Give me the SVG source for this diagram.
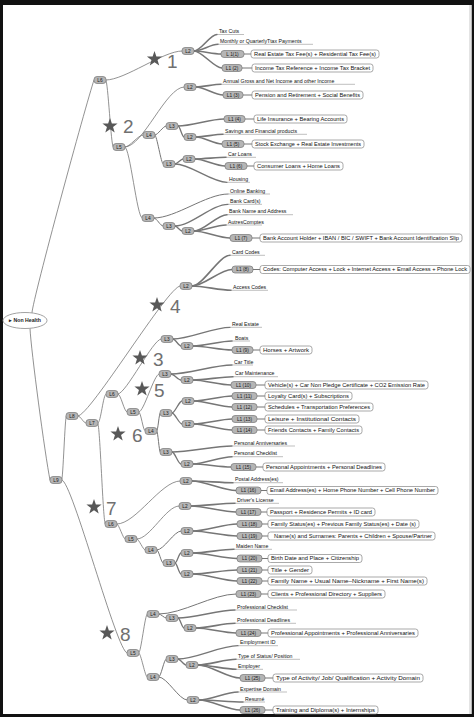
<svg xmlns="http://www.w3.org/2000/svg" xmlns:xlink="http://www.w3.org/1999/xlink" width="474" height="717" viewBox="0 0 474 717">
<style>
.p rect{fill:#b5b5b5;stroke:#767676;stroke-width:0.7}
.p text{font-family:"Liberation Sans",Arial,sans-serif;font-size:4.8px;fill:#1a1a1a;text-anchor:middle}
.b rect{fill:#fff;stroke:#858585;stroke-width:0.7}
.b text,.l text{font-family:"Liberation Sans",Arial,sans-serif;font-size:5.2px;fill:#111}
.l line{stroke:#949494;stroke-width:0.6}
.c path{fill:none;stroke:#767676;stroke-linecap:round}
.c .w0{stroke-width:0.8}.c .w1{stroke-width:1}.c .w2{stroke-width:1.3}.c .w3{stroke-width:1.6}
.c line{stroke:#767676;stroke-width:1}
.s use{fill:#585858}
.s text{font-family:"Liberation Sans",Arial,sans-serif;font-size:19px;fill:#707070}
</style>
<defs>
<polygon id="star" points="0,-8 1.88,-2.59 7.61,-2.47 3.04,0.99 4.7,6.47 0,3.2 -4.7,6.47 -3.04,0.99 -7.61,-2.47 -1.88,-2.59"/>
</defs>
<rect width="474" height="717" fill="#111"/>
<rect x="3" y="5" width="468.5" height="709" fill="#fff"/>
<rect x="469" y="5" width="2.5" height="709" fill="#e4e4e4"/>

<g id="connectors" class="c">
<path class="w0" d="M32,312.5 C33,298 86,104 94,80"/>
<path class="w0" d="M30,328.5 C31,350 45,455 50,480"/>
<path class="w0" d="M106,80 C125,80 163,51 182,51"/>
<path class="w0" d="M106,80 C108,80 111,147 113,147"/>
<path class="w0" d="M125,147 C143,147 166,87 184,87"/>
<path class="w0" d="M125,147 C130,147 138,135 143,135"/>
<path class="w0" d="M125,147 C130,147 137,218 142,218"/>
<path class="w1" d="M155,135 C158,135 163,126 166,126"/>
<path class="w1" d="M155,135 C157,135 161,164 163,164"/>
<path class="w2" d="M178,126 C192,126 210,119 224,119"/>
<path class="w2" d="M178,126 C180,126 182,137 184,137"/>
<path class="w3" d="M196,137 C204,137 215,134.3 223,134.3"/>
<path class="w3" d="M196,137 C204,137 214,144 222,144"/>
<path class="w2" d="M175,164 C177,164 181,159 183,159"/>
<path class="w2" d="M175,164 C191,164 211,182.3 227,182.3"/>
<path class="w3" d="M195,159 C204,159 217,157.3 226,157.3"/>
<path class="w3" d="M195,159 C204,159 216,166 225,166"/>
<path class="w1" d="M154,218 C176,218 206,194 228,194"/>
<path class="w1" d="M154,218 C157,218 160,226 163,226"/>
<path class="w2" d="M175,226 C191,226 212,204.3 228,204.3"/>
<path class="w2" d="M175,226 C177,226 180,231 182,231"/>
<path class="w3" d="M194,231 C204,231 217,214.7 227,214.7"/>
<path class="w3" d="M194,231 C204,231 216,225 226,225"/>
<path class="w3" d="M194,231 C205,231 219,238 230,238"/>
<path class="w3" d="M194,51 C201,51 210,34.5 217,34.5"/>
<path class="w3" d="M194,51 C201,51 211,44.3 218,44.3"/>
<path class="w3" d="M194,51 C202,51 213,54 221,54"/>
<path class="w3" d="M194,51 C202,51 214,68 222,68"/>
<path class="w3" d="M196,87 C203,87 214,84.3 221,84.3"/>
<path class="w3" d="M196,87 C204,87 215,95 223,95"/>

<path class="w0" d="M62,480 C63,480 65,416 66,416"/>
<path class="w0" d="M62,480 C72,480 117,653 127,653"/>
<path class="w0" d="M78,416 C90,416 168,286 180,286"/>
<path class="w0" d="M78,416 C81,416 83,423 86,423"/>
<path class="w0" d="M98,423 C101,423 103,394 106,394"/>
<path class="w0" d="M98,423 C100,423 103,524 105,524"/>
<path class="w0" d="M118,394 C126,394 153,339 161,339"/>
<path class="w0" d="M118,394 C121,394 124,412 127,412"/>
<path class="w0" d="M139,412 C144,412 154,374 159,374"/>
<path class="w0" d="M139,412 C141,412 143,431 145,431"/>
<path class="w1" d="M157,431 C158,431 159,413 160,413"/>
<path class="w1" d="M157,431 C158,431 159,452 160,452"/>
<path class="w2" d="M172,413 C175,413 179,401 182,401"/>
<path class="w2" d="M172,413 C175,413 179,424 182,424"/>
<path class="w3" d="M194,401 C205,401 221,396 232,396"/>
<path class="w3" d="M194,401 C205,401 221,407 232,407"/>
<path class="w3" d="M194,424 C205,424 221,419 232,419"/>
<path class="w3" d="M194,424 C205,424 221,430 232,430"/>
<path class="w2" d="M172,452 C190,452 214,446 232,446"/>
<path class="w2" d="M172,452 C175,452 178,464 181,464"/>
<path class="w3" d="M193,464 C205,464 220,456.7 232,456.7"/>
<path class="w3" d="M193,464 C204,464 220,467 231,467"/>
<path class="w2" d="M173,339 C190,339 213,327.3 230,327.3"/>
<path class="w2" d="M173,339 C175,339 179,346 181,346"/>
<path class="w3" d="M193,346 C205,346 220,341 232,341"/>
<path class="w3" d="M193,346 C205,346 220,350 232,350"/>
<path class="w2" d="M171,374 C189,374 214,365 232,365"/>
<path class="w2" d="M171,374 C174,374 178,380 181,380"/>
<path class="w3" d="M193,380 C205,380 221,376.7 233,376.7"/>
<path class="w3" d="M193,380 C204,380 220,385 231,385"/>
<path class="w3" d="M192,286 C203,286 219,255.3 230,255.3"/>
<path class="w3" d="M192,286 C204,286 220,269.5 232,269.5"/>
<path class="w3" d="M192,286 C204,286 219,290.3 231,290.3"/>

<path class="w0" d="M117,524 C136,524 161,481 180,481"/>
<path class="w0" d="M117,524 C119,524 123,539 125,539"/>
<path class="w3" d="M192,481 C204,481 221,482.7 233,482.7"/>
<path class="w3" d="M192,481 C205,481 223,490.5 236,490.5"/>
<path class="w0" d="M137,539 C150,539 166,506 179,506"/>
<path class="w0" d="M137,539 C139,539 143,550 145,550"/>
<path class="w3" d="M191,506 C204,506 222,503.3 235,503.3"/>
<path class="w3" d="M191,506 C204,506 223,512 236,512"/>
<path class="w1" d="M157,550 C164,550 174,531 181,531"/>
<path class="w1" d="M157,550 C159,550 161,563 163,563"/>
<path class="w3" d="M193,531 C206,531 224,524 237,524"/>
<path class="w3" d="M193,531 C206,531 224,536 237,536"/>
<path class="w2" d="M175,563 C177,563 179,553 181,553"/>
<path class="w2" d="M175,563 C177,563 179,574 181,574"/>
<path class="w3" d="M193,553 C205,553 222,549.3 234,549.3"/>
<path class="w3" d="M193,553 C206,553 224,558.5 237,558.5"/>
<path class="w3" d="M193,574 C206,574 224,570 237,570"/>
<path class="w3" d="M193,574 C206,574 224,581 237,581"/>
<path class="w0" d="M139,653 C141,653 145,614 147,614"/>
<path class="w0" d="M139,653 C141,653 145,677 147,677"/>
<path class="w1" d="M159,614 C182,614 213,594 236,594"/>
<path class="w1" d="M159,614 C161,614 164,618 166,618"/>
<path class="w2" d="M178,618 C195,618 218,610 235,610"/>
<path class="w2" d="M178,618 C180,618 182,628 184,628"/>
<path class="w3" d="M196,628 C208,628 223,623.3 235,623.3"/>
<path class="w3" d="M196,628 C208,628 224,633 236,633"/>
<path class="w1" d="M159,677 C161,677 164,659 166,659"/>
<path class="w1" d="M159,677 C167,677 179,700 187,700"/>
<path class="w2" d="M178,659 C196,659 220,645.7 238,645.7"/>
<path class="w2" d="M178,659 C180,659 184,665 186,665"/>
<path class="w3" d="M198,665 C209,665 225,659.3 236,659.3"/>
<path class="w3" d="M198,665 C209,665 225,669.3 236,669.3"/>
<path class="w3" d="M198,665 C211,665 227,678 240,678"/>
<path class="w3" d="M199,700 C211,700 226,692 238,692"/>
<path class="w3" d="M199,700 C212,700 230,702 243,702"/>
<path class="w3" d="M199,700 C211,700 228,710 240,710"/>

<line x1="244" y1="54" x2="251" y2="54"/>
<line x1="242" y1="68" x2="252" y2="68"/>
<line x1="243" y1="95" x2="252" y2="95"/>
<line x1="245" y1="119" x2="254" y2="119"/>
<line x1="244" y1="144" x2="252" y2="144"/>
<line x1="247" y1="166" x2="254" y2="166"/>
<line x1="252" y1="238" x2="260" y2="238"/>
<line x1="253" y1="269.5" x2="260" y2="269.5"/>
<line x1="253" y1="350" x2="260" y2="350"/>
<line x1="256" y1="385" x2="265" y2="385"/>
<line x1="257" y1="396" x2="265" y2="396"/>
<line x1="257" y1="407" x2="265" y2="407"/>
<line x1="257" y1="419" x2="265" y2="419"/>
<line x1="257" y1="430" x2="265" y2="430"/>
<line x1="256" y1="467" x2="263" y2="467"/>
<line x1="261" y1="490.5" x2="267" y2="490.5"/>
<line x1="261" y1="512" x2="267" y2="512"/>
<line x1="262" y1="524" x2="268" y2="524"/>
<line x1="262" y1="536" x2="268" y2="536"/>
<line x1="262" y1="558.5" x2="268" y2="558.5"/>
<line x1="262" y1="570" x2="268" y2="570"/>
<line x1="262" y1="581" x2="268" y2="581"/>
<line x1="261" y1="594" x2="268" y2="594"/>
<line x1="261" y1="633" x2="268" y2="633"/>
<line x1="265" y1="678" x2="273" y2="678"/>
<line x1="265" y1="710" x2="273" y2="710"/>
</g>

<g id="root">
<ellipse cx="25" cy="320.5" rx="22" ry="8" fill="#fff" stroke="#8a8a8a" stroke-width="0.8"/>
<text x="25" y="322.3" font-family="Liberation Sans, Arial, sans-serif" font-size="5.2" font-weight="bold" fill="#222" text-anchor="middle">▸ Non Health</text>
</g>

<g id="stars" class="s">
<use xlink:href="#star" href="#star" transform="translate(154.5,59)"/><text x="167" y="68">1</text>
<use xlink:href="#star" href="#star" transform="translate(110,126)"/><text x="123" y="133">2</text>
<use xlink:href="#star" href="#star" transform="translate(157,305)"/><text x="170" y="313">4</text>
<use xlink:href="#star" href="#star" transform="translate(140,358)"/><text x="153" y="366">3</text>
<use xlink:href="#star" href="#star" transform="translate(142,389)"/><text x="154" y="397">5</text>
<use xlink:href="#star" href="#star" transform="translate(118,434)"/><text x="132" y="442">6</text>
<use xlink:href="#star" href="#star" transform="translate(94,507)"/><text x="106" y="515">7</text>
<use xlink:href="#star" href="#star" transform="translate(107,633)"/><text x="120" y="641">8</text>
</g>

<g id="n-l6a" class="p"><rect x="94" y="76.5" width="12" height="7" rx="3"/><text x="100" y="81.7">L6</text></g>
<g id="n-l5a" class="p"><rect x="113" y="143.5" width="12" height="7" rx="3"/><text x="119" y="148.7">L5</text></g>
<g id="n-l2a" class="p"><rect x="182" y="47.5" width="12" height="7" rx="3"/><text x="188" y="52.7">L2</text></g>
<g id="n-l2b" class="p"><rect x="184" y="83.5" width="12" height="7" rx="3"/><text x="190" y="88.7">L2</text></g>
<g id="n-l4a" class="p"><rect x="143" y="131.5" width="12" height="7" rx="3"/><text x="149" y="136.7">L4</text></g>
<g id="n-l3a" class="p"><rect x="166" y="122.5" width="12" height="7" rx="3"/><text x="172" y="127.7">L3</text></g>
<g id="n-l2c" class="p"><rect x="184" y="133.5" width="12" height="7" rx="3"/><text x="190" y="138.7">L2</text></g>
<g id="n-l3b" class="p"><rect x="163" y="160.5" width="12" height="7" rx="3"/><text x="169" y="165.7">L3</text></g>
<g id="n-l2d" class="p"><rect x="183" y="155.5" width="12" height="7" rx="3"/><text x="189" y="160.7">L2</text></g>
<g id="n-l4b" class="p"><rect x="142" y="214.5" width="12" height="7" rx="3"/><text x="148" y="219.7">L4</text></g>
<g id="n-l3c" class="p"><rect x="163" y="222.5" width="12" height="7" rx="3"/><text x="169" y="227.7">L3</text></g>
<g id="n-l2e" class="p"><rect x="182" y="227.5" width="12" height="7" rx="3"/><text x="188" y="232.7">L2</text></g>
<g id="n-l2f" class="p"><rect x="180" y="282.5" width="12" height="7" rx="3"/><text x="186" y="287.7">L2</text></g>
<g id="n-l8" class="p"><rect x="66" y="412.5" width="12" height="7" rx="3"/><text x="72" y="417.7">L8</text></g>
<g id="n-l7" class="p"><rect x="86" y="419.5" width="12" height="7" rx="3"/><text x="92" y="424.7">L7</text></g>
<g id="n-l6b" class="p"><rect x="106" y="390.5" width="12" height="7" rx="3"/><text x="112" y="395.7">L6</text></g>
<g id="n-l3d" class="p"><rect x="161" y="335.5" width="12" height="7" rx="3"/><text x="167" y="340.7">L3</text></g>
<g id="n-l2g" class="p"><rect x="181" y="342.5" width="12" height="7" rx="3"/><text x="187" y="347.7">L2</text></g>
<g id="n-l5b" class="p"><rect x="127" y="408.5" width="12" height="7" rx="3"/><text x="133" y="413.7">L5</text></g>
<g id="n-l3e" class="p"><rect x="159" y="370.5" width="12" height="7" rx="3"/><text x="165" y="375.7">L3</text></g>
<g id="n-l2h" class="p"><rect x="181" y="376.5" width="12" height="7" rx="3"/><text x="187" y="381.7">L2</text></g>
<g id="n-l4c" class="p"><rect x="145" y="427.5" width="12" height="7" rx="3"/><text x="151" y="432.7">L4</text></g>
<g id="n-l3f" class="p"><rect x="160" y="409.5" width="12" height="7" rx="3"/><text x="166" y="414.7">L3</text></g>
<g id="n-l2i" class="p"><rect x="182" y="397.5" width="12" height="7" rx="3"/><text x="188" y="402.7">L2</text></g>
<g id="n-l2j" class="p"><rect x="182" y="420.5" width="12" height="7" rx="3"/><text x="188" y="425.7">L2</text></g>
<g id="n-l3g" class="p"><rect x="160" y="448.5" width="12" height="7" rx="3"/><text x="166" y="453.7">L3</text></g>
<g id="n-l2k" class="p"><rect x="181" y="460.5" width="12" height="7" rx="3"/><text x="187" y="465.7">L2</text></g>
<g id="n-l9" class="p"><rect x="50" y="476.5" width="12" height="7" rx="3"/><text x="56" y="481.7">L9</text></g>
<g id="n-l6c" class="p"><rect x="105" y="520.5" width="12" height="7" rx="3"/><text x="111" y="525.7">L6</text></g>
<g id="n-l2l" class="p"><rect x="180" y="477.5" width="12" height="7" rx="3"/><text x="186" y="482.7">L2</text></g>
<g id="n-l5c" class="p"><rect x="125" y="535.5" width="12" height="7" rx="3"/><text x="131" y="540.7">L5</text></g>
<g id="n-l2m" class="p"><rect x="179" y="502.5" width="12" height="7" rx="3"/><text x="185" y="507.7">L2</text></g>
<g id="n-l4d" class="p"><rect x="145" y="546.5" width="12" height="7" rx="3"/><text x="151" y="551.7">L4</text></g>
<g id="n-l2n" class="p"><rect x="181" y="527.5" width="12" height="7" rx="3"/><text x="187" y="532.7">L2</text></g>
<g id="n-l3h" class="p"><rect x="163" y="559.5" width="12" height="7" rx="3"/><text x="169" y="564.7">L3</text></g>
<g id="n-l2o" class="p"><rect x="181" y="549.5" width="12" height="7" rx="3"/><text x="187" y="554.7">L2</text></g>
<g id="n-l2p" class="p"><rect x="181" y="570.5" width="12" height="7" rx="3"/><text x="187" y="575.7">L2</text></g>
<g id="n-l5d" class="p"><rect x="127" y="649.5" width="12" height="7" rx="3"/><text x="133" y="654.7">L5</text></g>
<g id="n-l4e" class="p"><rect x="147" y="610.5" width="12" height="7" rx="3"/><text x="153" y="615.7">L4</text></g>
<g id="n-l3i" class="p"><rect x="166" y="614.5" width="12" height="7" rx="3"/><text x="172" y="619.7">L3</text></g>
<g id="n-l2q" class="p"><rect x="184" y="624.5" width="12" height="7" rx="3"/><text x="190" y="629.7">L2</text></g>
<g id="n-l4f" class="p"><rect x="147" y="673.5" width="12" height="7" rx="3"/><text x="153" y="678.7">L4</text></g>
<g id="n-l3j" class="p"><rect x="166" y="655.5" width="12" height="7" rx="3"/><text x="172" y="660.7">L3</text></g>
<g id="n-l2r" class="p"><rect x="186" y="661.5" width="12" height="7" rx="3"/><text x="192" y="666.7">L2</text></g>
<g id="n-l2s" class="p"><rect x="187" y="696.5" width="12" height="7" rx="3"/><text x="193" y="701.7">L2</text></g>

<g id="n-l1-1" class="p"><rect x="221" y="50.5" width="23" height="7" rx="3"/><text x="232.5" y="55.7">L 1(1)</text></g>
<g id="n-l1-2" class="p"><rect x="222" y="64.5" width="20" height="7" rx="3"/><text x="232" y="69.7">L1 (2)</text></g>
<g id="n-l1-3" class="p"><rect x="223" y="91.5" width="20" height="7" rx="3"/><text x="233" y="96.7">L1 (3)</text></g>
<g id="n-l1-4" class="p"><rect x="224" y="115.5" width="21" height="7" rx="3"/><text x="234.5" y="120.7">L1 (4)</text></g>
<g id="n-l1-5" class="p"><rect x="222" y="140.5" width="22" height="7" rx="3"/><text x="233" y="145.7">L1 (5)</text></g>
<g id="n-l1-6" class="p"><rect x="225" y="162.5" width="22" height="7" rx="3"/><text x="236" y="167.7">L1 (6)</text></g>
<g id="n-l1-7" class="p"><rect x="230" y="234.5" width="22" height="7" rx="3"/><text x="241" y="239.7">L1 (7)</text></g>
<g id="n-l1-8" class="p"><rect x="232" y="266" width="21" height="7" rx="3"/><text x="242.5" y="271.2">L1 (8)</text></g>
<g id="n-l1-9" class="p"><rect x="232" y="346.5" width="21" height="7" rx="3"/><text x="242.5" y="351.7">L1 (9)</text></g>
<g id="n-l1-10" class="p"><rect x="231" y="381.5" width="25" height="7" rx="3"/><text x="243.5" y="386.7">L1 (10)</text></g>
<g id="n-l1-11" class="p"><rect x="232" y="392.5" width="25" height="7" rx="3"/><text x="244.5" y="397.7">L1 (11)</text></g>
<g id="n-l1-12" class="p"><rect x="232" y="403.5" width="25" height="7" rx="3"/><text x="244.5" y="408.7">L1 (12)</text></g>
<g id="n-l1-13" class="p"><rect x="232" y="415.5" width="25" height="7" rx="3"/><text x="244.5" y="420.7">L1 (13)</text></g>
<g id="n-l1-14" class="p"><rect x="232" y="426.5" width="25" height="7" rx="3"/><text x="244.5" y="431.7">L1 (14)</text></g>
<g id="n-l1-15" class="p"><rect x="231" y="463.5" width="25" height="7" rx="3"/><text x="243.5" y="468.7">L1 (15)</text></g>
<g id="n-l1-16" class="p"><rect x="236" y="487" width="25" height="7" rx="3"/><text x="248.5" y="492.2">L1 (16)</text></g>
<g id="n-l1-17" class="p"><rect x="236" y="508.5" width="25" height="7" rx="3"/><text x="248.5" y="513.7">L1 (17)</text></g>
<g id="n-l1-18" class="p"><rect x="237" y="520.5" width="25" height="7" rx="3"/><text x="249.5" y="525.7">L1 (18)</text></g>
<g id="n-l1-19" class="p"><rect x="237" y="532.5" width="25" height="7" rx="3"/><text x="249.5" y="537.7">L1 (19)</text></g>
<g id="n-l1-20" class="p"><rect x="237" y="555" width="25" height="7" rx="3"/><text x="249.5" y="560.2">L1 (20)</text></g>
<g id="n-l1-21" class="p"><rect x="237" y="566.5" width="25" height="7" rx="3"/><text x="249.5" y="571.7">L1 (21)</text></g>
<g id="n-l1-22" class="p"><rect x="237" y="577.5" width="25" height="7" rx="3"/><text x="249.5" y="582.7">L1 (22)</text></g>
<g id="n-l1-23" class="p"><rect x="236" y="590.5" width="25" height="7" rx="3"/><text x="248.5" y="595.7">L1 (23)</text></g>
<g id="n-l1-24" class="p"><rect x="236" y="629.5" width="25" height="7" rx="3"/><text x="248.5" y="634.7">L1 (24)</text></g>
<g id="n-l1-25" class="p"><rect x="240" y="674.5" width="25" height="7" rx="3"/><text x="252.5" y="679.7">L1 (25)</text></g>
<g id="n-l1-26" class="p"><rect x="240" y="706.5" width="25" height="7" rx="3"/><text x="252.5" y="711.7">L1 (26)</text></g>

<g id="b-1" class="b"><rect x="251" y="50" width="128" height="8" rx="2.5"/><text x="254" y="55.8" textLength="122" lengthAdjust="spacingAndGlyphs">Real Estate Tax Fee(s) +  Residential Tax Fee(s)</text></g>
<g id="b-2" class="b"><rect x="252" y="64" width="121" height="8" rx="2.5"/><text x="255" y="69.8" textLength="115" lengthAdjust="spacingAndGlyphs">Income Tax Reference +  Income Tax Bracket</text></g>
<g id="b-3" class="b"><rect x="252" y="91" width="111" height="8" rx="2.5"/><text x="255" y="96.8" textLength="105" lengthAdjust="spacingAndGlyphs">Pension and Retirement +  Social Benefits</text></g>
<g id="b-4" class="b"><rect x="254" y="115" width="93" height="8" rx="2.5"/><text x="257" y="120.8" textLength="87" lengthAdjust="spacingAndGlyphs">Life Insurance + Bearing Accounts</text></g>
<g id="b-5" class="b"><rect x="252" y="140" width="112" height="8" rx="2.5"/><text x="255" y="145.8" textLength="106" lengthAdjust="spacingAndGlyphs">Stock Exchange + Real Estate Investments</text></g>
<g id="b-6" class="b"><rect x="254" y="162" width="89" height="8" rx="2.5"/><text x="257" y="167.8" textLength="83" lengthAdjust="spacingAndGlyphs">Consumer Loans + Home Loans</text></g>
<g id="b-7" class="b"><rect x="260" y="234" width="202" height="8" rx="2.5"/><text x="263" y="239.8" textLength="196" lengthAdjust="spacingAndGlyphs">Bank Account Holder + IBAN / BIC / SWIFT + Bank Account Identification Slip</text></g>
<g id="b-8" class="b"><rect x="260" y="265.5" width="210" height="8" rx="2.5"/><text x="263" y="271.3" textLength="204" lengthAdjust="spacingAndGlyphs">Codes: Computer Access + Lock + Internet Access + Email Access + Phone Lock</text></g>
<g id="b-9" class="b"><rect x="260" y="346" width="52" height="8" rx="2.5"/><text x="263" y="351.8" textLength="46" lengthAdjust="spacingAndGlyphs">Horses + Artwork</text></g>
<g id="b-10" class="b"><rect x="265" y="381" width="163" height="8" rx="2.5"/><text x="268" y="386.8" textLength="157" lengthAdjust="spacingAndGlyphs">Vehicle(s) + Car Non Pledge Certificate +  CO2 Emission Rate</text></g>
<g id="b-11" class="b"><rect x="265" y="392" width="87" height="8" rx="2.5"/><text x="268" y="397.8" textLength="81" lengthAdjust="spacingAndGlyphs">Loyalty Card(s) + Subscriptions</text></g>
<g id="b-12" class="b"><rect x="265" y="403" width="108" height="8" rx="2.5"/><text x="268" y="408.8" textLength="102" lengthAdjust="spacingAndGlyphs">Schedules  + Transportation Preferences</text></g>
<g id="b-13" class="b"><rect x="265" y="415" width="94" height="8" rx="2.5"/><text x="268" y="420.8" textLength="88" lengthAdjust="spacingAndGlyphs">Leisure + Institutional Contacts</text></g>
<g id="b-14" class="b"><rect x="265" y="426" width="97" height="8" rx="2.5"/><text x="268" y="431.8" textLength="91" lengthAdjust="spacingAndGlyphs">Friends Contacts + Family Contacts</text></g>
<g id="b-15" class="b"><rect x="263" y="463" width="122" height="8" rx="2.5"/><text x="266" y="468.8" textLength="116" lengthAdjust="spacingAndGlyphs">Personal Appointments + Personal Deadlines</text></g>
<g id="b-16" class="b"><rect x="267" y="486.5" width="171" height="8" rx="2.5"/><text x="270" y="492.3" textLength="165" lengthAdjust="spacingAndGlyphs">Email Address(es) + Home Phone Number  + Cell Phone Number</text></g>
<g id="b-17" class="b"><rect x="267" y="508" width="108" height="8" rx="2.5"/><text x="270" y="513.8" textLength="102" lengthAdjust="spacingAndGlyphs">Passport + Residence Permits + ID card</text></g>
<g id="b-18" class="b"><rect x="268" y="520" width="151" height="8" rx="2.5"/><text x="271" y="525.8" textLength="145" lengthAdjust="spacingAndGlyphs">Family Status(es) + Previous Family Status(es) +  Date (s)</text></g>
<g id="b-19" class="b"><rect x="268" y="532" width="167" height="8" rx="2.5"/><text x="274" y="537.8" textLength="158" lengthAdjust="spacingAndGlyphs">Name(s) and Surnames: Parents + Children + Spouse/Partner</text></g>
<g id="b-20" class="b"><rect x="268" y="554.5" width="94" height="8" rx="2.5"/><text x="271" y="560.3" textLength="88" lengthAdjust="spacingAndGlyphs">Birth Date and Place + Citizenship</text></g>
<g id="b-21" class="b"><rect x="268" y="566" width="44" height="8" rx="2.5"/><text x="271" y="571.8" textLength="38" lengthAdjust="spacingAndGlyphs">Title + Gender</text></g>
<g id="b-22" class="b"><rect x="268" y="577" width="159" height="8" rx="2.5"/><text x="271" y="582.8" textLength="153" lengthAdjust="spacingAndGlyphs">Family Name + Usual Name–Nickname + First Name(s)</text></g>
<g id="b-23" class="b"><rect x="268" y="590" width="117" height="8" rx="2.5"/><text x="271" y="595.8" textLength="111" lengthAdjust="spacingAndGlyphs">Clients + Professional Directory +  Suppliers</text></g>
<g id="b-24" class="b"><rect x="268" y="629" width="150" height="8" rx="2.5"/><text x="271" y="634.8" textLength="144" lengthAdjust="spacingAndGlyphs">Professional Appointments + Professional Anniversaries</text></g>
<g id="b-25" class="b"><rect x="273" y="674" width="150" height="8" rx="2.5"/><text x="276" y="679.8" textLength="144" lengthAdjust="spacingAndGlyphs">Type of Activity/ Job/ Qualification + Activity Domain</text></g>
<g id="b-26" class="b"><rect x="273" y="706" width="105" height="8" rx="2.5"/><text x="276" y="711.8" textLength="99" lengthAdjust="spacingAndGlyphs">Training and Diploma(s) + Internships</text></g>

<g id="t-1" class="l"><text x="219" y="33.1">Tax Cuts</text><line x1="217" y1="34.5" x2="244" y2="34.5"/></g>
<g id="t-2" class="l"><text x="220" y="42.9">Monthly or QuarterlyTtax Payments</text><line x1="218" y1="44.3" x2="313" y2="44.3"/></g>
<g id="t-3" class="l"><text x="223" y="82.9">Annual Gross and Net Income and other Income</text><line x1="221" y1="84.3" x2="355" y2="84.3"/></g>
<g id="t-4" class="l"><text x="225" y="132.9">Savings and Financial products</text><line x1="223" y1="134.3" x2="307" y2="134.3"/></g>
<g id="t-5" class="l"><text x="228" y="155.9">Car Loans</text><line x1="226" y1="157.3" x2="256" y2="157.3"/></g>
<g id="t-6" class="l"><text x="229" y="180.9">Housing</text><line x1="227" y1="182.3" x2="250" y2="182.3"/></g>
<g id="t-7" class="l"><text x="230" y="192.6">Online Banking</text><line x1="228" y1="194" x2="270" y2="194"/></g>
<g id="t-8" class="l"><text x="230" y="202.9">Bank Card(s)</text><line x1="228" y1="204.3" x2="262" y2="204.3"/></g>
<g id="t-9" class="l"><text x="229" y="213.3">Bank Name and Address</text><line x1="227" y1="214.7" x2="293" y2="214.7"/></g>
<g id="t-10" class="l"><text x="228" y="223.6">AutresComptes</text><line x1="226" y1="225" x2="262" y2="225"/></g>
<g id="t-11" class="l"><text x="232" y="253.9">Card Codes</text><line x1="230" y1="255.3" x2="265" y2="255.3"/></g>
<g id="t-12" class="l"><text x="233" y="288.9">Access Codes</text><line x1="231" y1="290.3" x2="268" y2="290.3"/></g>
<g id="t-13" class="l"><text x="232" y="325.9">Real Estate</text><line x1="230" y1="327.3" x2="262" y2="327.3"/></g>
<g id="t-14" class="l"><text x="235" y="339.6">Boats</text><line x1="232" y1="341" x2="250" y2="341"/></g>
<g id="t-15" class="l"><text x="234" y="363.6">Car Title</text><line x1="232" y1="365" x2="253" y2="365"/></g>
<g id="t-16" class="l"><text x="235" y="375.3">Car Maintenance</text><line x1="233" y1="376.7" x2="278" y2="376.7"/></g>
<g id="t-17" class="l"><text x="234" y="444.6">Personal Anniversaries</text><line x1="232" y1="446" x2="295" y2="446"/></g>
<g id="t-18" class="l"><text x="234" y="455.3">Personal Checklist</text><line x1="232" y1="456.7" x2="283" y2="456.7"/></g>
<g id="t-19" class="l"><text x="235" y="481.3">Postal Address(es)</text><line x1="233" y1="482.7" x2="283" y2="482.7"/></g>
<g id="t-20" class="l"><text x="237" y="501.9">Driver's License</text><line x1="235" y1="503.3" x2="279" y2="503.3"/></g>
<g id="t-21" class="l"><text x="236" y="547.9">Maiden Name</text><line x1="234" y1="549.3" x2="272" y2="549.3"/></g>
<g id="t-22" class="l"><text x="237" y="608.6">Professional Checklist</text><line x1="235" y1="610" x2="297" y2="610"/></g>
<g id="t-23" class="l"><text x="237" y="621.9">Professional Deadlines</text><line x1="235" y1="623.3" x2="296" y2="623.3"/></g>
<g id="t-24" class="l"><text x="240" y="644.3">Employment ID</text><line x1="238" y1="645.7" x2="278" y2="645.7"/></g>
<g id="t-25" class="l"><text x="238" y="657.9">Type of Status/ Position</text><line x1="236" y1="659.3" x2="300" y2="659.3"/></g>
<g id="t-26" class="l"><text x="238" y="667.9">Employer</text><line x1="236" y1="669.3" x2="263" y2="669.3"/></g>
<g id="t-27" class="l"><text x="240" y="690.6">Expertise Domain</text><line x1="238" y1="692" x2="287" y2="692"/></g>
<g id="t-28" class="l"><text x="245" y="700.6">Resumé</text><line x1="243" y1="702" x2="265" y2="702"/></g>
</svg>
